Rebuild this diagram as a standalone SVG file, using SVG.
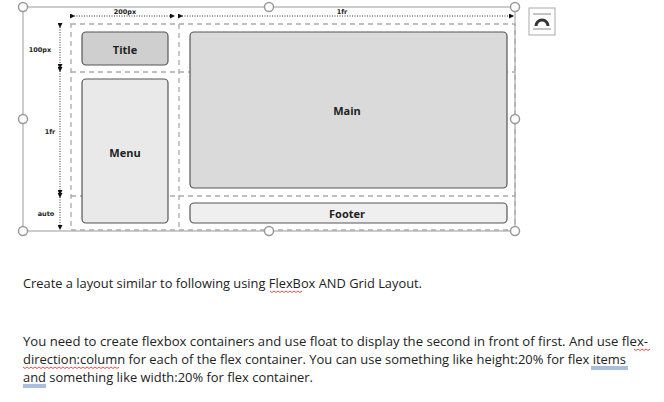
<svg xmlns="http://www.w3.org/2000/svg" width="664" height="402" viewBox="0 0 664 402">
<style>
.g{fill:none;stroke:#aaa;stroke-width:1.3;stroke-dasharray:5,4}
.box{stroke:#555;stroke-width:1.2}
.lbl{font-family:"Open Sans","Liberation Sans",sans-serif;font-weight:bold;fill:#222;text-anchor:middle}
.sm{font-family:"DejaVu Sans",sans-serif;font-weight:bold;font-size:6.5px;fill:#222;text-anchor:middle}
.dim{stroke:#333;stroke-width:1;stroke-dasharray:1,1.5;fill:none}
.h{fill:#fff;stroke:#999;stroke-width:1.5}
.t{font-family:"Open Sans","Liberation Sans",sans-serif;font-size:12.5px;fill:#222}
.sq{fill:none;stroke:#d22;stroke-width:0.8}
</style>
<defs><marker id="a" markerWidth="5" markerHeight="5" refX="4" refY="2.5" orient="auto"><path d="M0,0L5,2.5L0,5z" fill="#111"/></marker></defs>
<rect x="23" y="7" width="492" height="224" fill="none" stroke="#999" stroke-width="1"/>
<g id="grid">
<rect class="g" x="71" y="24" width="444" height="206"/>
<line class="g" x1="179" y1="24" x2="179" y2="230"/>
<line class="g" x1="71" y1="72" x2="515" y2="72"/>
<line class="g" x1="71" y1="196" x2="515" y2="196"/>
</g>
<g id="title"><rect class="box" x="82" y="32" width="86" height="33" rx="4" fill="#cfcfcf"/><text class="lbl" x="125" y="54" font-size="11">Title</text></g>
<g id="menu"><rect class="box" x="82" y="79" width="86" height="144" rx="4" fill="#e9e9e9"/><text class="lbl" x="125" y="157" font-size="11">Menu</text></g>
<g id="main"><rect class="box" x="190" y="32" width="317" height="156" rx="4" fill="#dadada"/><text class="lbl" x="347" y="115" font-size="11">Main</text></g>
<g id="footer"><rect class="box" x="190" y="203" width="317" height="20" rx="4" fill="#efefef"/><text class="lbl" x="347" y="218" font-size="11">Footer</text></g>
<g id="connectors">
<line class="dim" x1="60" y1="27" x2="60" y2="68" marker-start="url(#a)" marker-end="url(#a)"/>
<line class="dim" x1="60" y1="71" x2="60" y2="194" marker-start="url(#a)" marker-end="url(#a)"/>
<line class="dim" x1="60" y1="197" x2="60" y2="229" marker-start="url(#a)" marker-end="url(#a)"/>
<line class="dim" x1="74" y1="16" x2="174" y2="16" marker-start="url(#a)" marker-end="url(#a)"/>
<line class="dim" x1="182" y1="16" x2="513" y2="16" marker-start="url(#a)" marker-end="url(#a)"/>
</g>
<text class="sm" x="40" y="52">100px</text>
<text class="sm" x="50" y="134">1fr</text>
<text class="sm" x="46" y="216">auto</text>
<text class="sm" x="125" y="14">200px</text>
<text class="sm" x="342" y="14">1fr</text>
<g id="handles">
<circle class="h" cx="23" cy="7" r="4.5"/><circle class="h" cx="269" cy="7" r="4.5"/><circle class="h" cx="515" cy="7" r="4.5"/>
<circle class="h" cx="23" cy="119" r="4.5"/><circle class="h" cx="515" cy="119" r="4.5"/>
<circle class="h" cx="23" cy="231" r="4.5"/><circle class="h" cx="269" cy="231" r="4.5"/><circle class="h" cx="515" cy="231" r="4.5"/>
</g>
<g id="icon"><rect x="529" y="8" width="26" height="27" fill="#fff" stroke="#aaa"/>
<line x1="533" y1="14" x2="551" y2="14" stroke="#888"/><line x1="533" y1="29" x2="551" y2="29" stroke="#888"/>
<path d="M536,26 A6,6 0 0 1 548,26" fill="none" stroke="#333" stroke-width="3"/></g>
<text class="t" x="23" y="288" textLength="399" lengthAdjust="spacingAndGlyphs">Create a layout similar to following using FlexBox AND Grid Layout.</text>
<text class="t" x="23" y="346" textLength="625" lengthAdjust="spacingAndGlyphs">You need to create flexbox containers and use float to display the second in front of first. And use flex-</text>
<text class="t" x="23" y="364" textLength="603" lengthAdjust="spacingAndGlyphs">direction:column for each of the flex container. You can use something like height:20% for flex items</text>
<text class="t" x="23" y="382" textLength="290" lengthAdjust="spacingAndGlyphs">and something like width:20% for flex container.</text>
<path class="sq" d="M270,291 l2,1.5 l2,-1.5 l2,1.5 l2,-1.5 l2,1.5 l2,-1.5 l2,1.5 l2,-1.5 l2,1.5 l2,-1.5 l2,1.5 l2,-1.5 l2,1.5 l2,-1.5 l2,1.5 l2,-1.5"/>
<path class="sq" d="M634,349 l2,1.5 l2,-1.5 l2,1.5 l2,-1.5 l2,1.5 l2,-1.5 l2,1.5 l2,-1.5"/>
<path class="sq" d="M23,367 l2,1.5 l2,-1.5 l2,1.5 l2,-1.5 l2,1.5 l2,-1.5 l2,1.5 l2,-1.5 l2,1.5 l2,-1.5 l2,1.5 l2,-1.5 l2,1.5 l2,-1.5 l2,1.5 l2,-1.5 l2,1.5 l2,-1.5 l2,1.5 l2,-1.5 l2,1.5 l2,-1.5 l2,1.5 l2,-1.5 l2,1.5 l2,-1.5 l2,1.5 l2,-1.5 l2,1.5 l2,-1.5 l2,1.5 l2,-1.5 l2,1.5 l2,-1.5 l2,1.5 l2,-1.5 l2,1.5 l2,-1.5 l2,1.5 l2,-1.5 l2,1.5 l2,-1.5 l2,1.5 l2,-1.5 l2,1.5 l2,-1.5 l2,1.5 l2,-1.5"/>
<line x1="591" y1="367" x2="628" y2="367" stroke="#2a5db0" stroke-width="0.8"/><line x1="591" y1="369" x2="628" y2="369" stroke="#2a5db0" stroke-width="0.8"/>
<line x1="23" y1="385" x2="46" y2="385" stroke="#2a5db0" stroke-width="0.8"/><line x1="23" y1="387" x2="46" y2="387" stroke="#2a5db0" stroke-width="0.8"/>
</svg>
